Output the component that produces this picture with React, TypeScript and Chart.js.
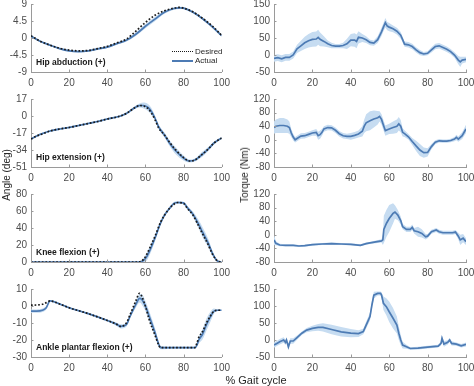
import React, { useEffect, useRef } from "react";
import { Chart, registerables } from "chart.js";

Chart.register(...registerables);

// ---------- data ----------
const X_TICKS = [0, 20, 40, 60, 80, 100];

// Hip abduction angle
const hipAbdX = [0, 5, 10, 15, 20, 25, 30, 35, 40, 45, 50, 55, 60, 65, 70, 75, 78, 80, 85, 90, 95, 100];
const hipAbdDesired = [0.6, -0.9, -1.9, -2.7, -3.2, -3.4, -3.3, -2.8, -2.2, -1.3, -0.3, 1.8, 4.1, 6.0, 7.2, 7.9, 8.1, 7.9, 6.9, 5.2, 3.2, 0.7];
const hipAbdActual = [0.5, -0.9, -1.9, -2.8, -3.4, -3.6, -3.4, -2.9, -2.4, -1.5, -0.6, 1.0, 3.1, 5.0, 6.8, 7.8, 8.0, 7.9, 6.8, 5.1, 3.0, 0.6];
const hipAbdSd = [0.25, 0.25, 0.25, 0.25, 0.25, 0.25, 0.25, 0.25, 0.25, 0.3, 0.3, 0.45, 0.55, 0.55, 0.4, 0.3, 0.3, 0.3, 0.3, 0.35, 0.35, 0.35];
const hipAbdTicks = [-9, -4.5, 0, 4.5, 9];

// Hip extension angle
const hipExtX = [0, 3, 6, 10, 15, 20, 25, 30, 35, 40, 45, 48, 50, 53, 55, 57, 59, 61, 63, 65, 67, 70, 73, 76, 80, 83, 86, 90, 93, 96, 100];
const hipExtDesired = [-23, -20, -18, -15, -13, -11.5, -9.5, -7.5, -5.5, -3, -1, 0.8, 2.5, 6.5, 9, 10.5, 10, 8, 3.5, -3.5, -12, -19, -27, -34, -41.5, -45, -44, -38, -33, -27, -22];
const hipExtActual = [-23, -20, -17.5, -15, -13, -11.5, -9.5, -7.5, -5.5, -3, -1, 0.8, 2.5, 6.5, 9, 10.5, 10.5, 9, 5, -2, -11, -19, -28, -35, -42, -45, -44, -38, -33, -27, -22];
const hipExtSd = [1, 1, 1, 1, 1, 1, 1, 1, 1, 1, 1, 1, 1, 1, 1.5, 2, 3, 3.5, 3.5, 2.5, 2, 2.5, 3, 3.5, 2.5, 1.5, 1.5, 2.5, 2, 1.5, 1];
const hipExtTicks = [-51, -34, -17, 0, 17];

// Knee flexion angle
const kneeX = [0, 10, 20, 30, 40, 50, 56, 58, 60, 62, 65, 68, 70, 73, 75, 77, 80, 82, 85, 88, 90, 93, 95, 97, 98, 100];
const kneeDesired = [0, 0, 0, 0, 0, 0, 0, 1, 6, 15, 30, 47, 55, 64, 68, 70, 69, 63, 55, 42, 33, 20, 10, 3, 1, 0];
const kneeActual = [0, 0, 0, 0, 0, 0, 0, 0.5, 4, 12, 28, 46, 55, 64, 69, 70, 69.5, 64, 56, 44, 35, 22, 11, 3, 1, 0];
const kneeSd = [0.5, 0.5, 0.5, 0.5, 0.5, 0.5, 0.5, 1.5, 4, 5, 4, 2, 1.5, 1.5, 1.5, 1.5, 1.5, 2, 3, 5, 6, 5, 3, 1.5, 1, 0.5];
const kneeTicks = [0, 20, 40, 60, 80];

// Ankle plantar flexion angle
const ankleX = [0, 3, 6, 8, 10, 15, 20, 30, 40, 45, 47, 50, 52, 55, 57, 58, 60, 62, 65, 67, 68, 75, 86, 87, 88, 90, 92, 94, 96, 98, 100];
const ankleDesired = [0.5, 0.6, 1, 2, 3, 1.2, -1, -4.5, -8.5, -10.8, -12, -10, -5, 3, 7.5, 6, 0, -8, -17, -23, -24.5, -24.5, -24.5, -22, -18.5, -15, -10, -6, -3, -2.5, -2.5];
const ankleActual = [-3, -3, -2.5, -1, 3, 1.2, -1, -4.5, -8.5, -10.8, -12, -11, -6, 1, 4.5, 4, 0, -6, -15.5, -22.5, -24.5, -24.5, -24.5, -23, -20, -16.5, -11, -6.5, -3, -2.5, -2.5];
const ankleSd = [1, 1, 1, 1, 0.5, 0.5, 0.5, 0.5, 0.5, 1, 1.2, 1.2, 1, 2, 2.5, 3, 3, 3, 2.5, 1.5, 1, 0.5, 0.5, 1, 2, 3, 3.5, 3, 1.5, 0.5, 0.5];
const ankleTicks = [-30, -20, -10, 0, 10];

// Hip abduction torque
const hipAbdTqX = [0, 2, 4, 6, 8, 10, 12, 14, 16, 18, 20, 22, 23, 24, 26, 28, 30, 32, 34, 36, 38, 40, 42, 43, 44, 46, 48, 50, 52, 54, 56, 57, 58, 59, 60, 62, 64, 66, 67, 68, 70, 72, 74, 76, 78, 80, 82, 84, 86, 88, 90, 92, 94, 96, 97, 98, 100];
const hipAbdTq = [-10, -8, -11, -7, -7, 0, 18, 27, 36, 42, 46, 47, 52, 46, 40, 33, 28, 26, 26, 28, 33, 44, 44, 40, 52, 50, 45, 37, 35, 45, 68, 82, 95, 85, 82, 77, 70, 58, 45, 32, 30, 25, 15, 7, 3, 5, 15, 25, 27, 22, 17, 10, 0, -15, -20, -15, -13];
const hipAbdTqSd = [10, 10, 10, 10, 10, 10, 12, 15, 18, 20, 22, 22, 22, 20, 15, 10, 8, 6, 6, 8, 15, 18, 20, 20, 18, 12, 10, 8, 8, 10, 12, 12, 14, 12, 12, 10, 10, 10, 8, 8, 8, 8, 8, 8, 6, 6, 8, 8, 8, 8, 8, 8, 8, 12, 15, 10, 8];
const hipAbdTqTicks = [-50, 0, 50, 100, 150];

// Hip extension torque
const hipExtTqX = [0, 1, 3, 5, 7, 8, 9, 10, 11, 12, 14, 16, 18, 20, 22, 23, 24, 25, 26, 28, 30, 32, 34, 36, 38, 40, 42, 44, 46, 47, 48, 50, 52, 54, 55, 56, 57, 58, 60, 62, 64, 65, 66, 67, 68, 70, 72, 74, 76, 78, 80, 82, 84, 86, 88, 90, 92, 94, 95, 96, 98, 100];
const hipExtTq = [36, 40, 42, 42, 40, 36, 20, 8, 0, 4, 11, 12, 16, 20, 22, 12, 15, 22, 32, 36, 35, 28, 18, 12, 10, 10, 13, 17, 25, 40, 50, 56, 61, 65, 69, 60, 43, 27, 32, 36, 40, 47, 40, 22, 18, 9, -5, -18, -30, -38, -37, -20, -7, -3, -4, -4, -2, 2, 7, 2, 12, 32];
const hipExtTqSd = [18, 20, 22, 22, 20, 18, 12, 10, 8, 8, 8, 8, 8, 8, 10, 12, 12, 10, 8, 8, 8, 8, 8, 8, 8, 10, 10, 10, 15, 20, 25, 28, 25, 20, 15, 15, 15, 15, 15, 18, 20, 20, 18, 12, 10, 8, 10, 15, 18, 15, 12, 8, 6, 5, 5, 5, 5, 6, 8, 8, 10, 12];
const hipExtTqTicks = [-80, -40, 0, 40, 80, 120];

// Knee flexion torque
const kneeTqX = [0, 1, 3, 6, 10, 13, 16, 20, 25, 30, 35, 40, 45, 48, 50, 53, 56, 56.7, 57.2, 58.6, 60, 62, 63, 64.5, 66, 67, 69, 71, 72, 73, 75, 77, 79, 80, 82, 84.5, 86, 88, 90.5, 93, 94.5, 96, 97, 98.5, 100];
const kneeTq = [-15, -25, -30, -31, -31, -33, -32, -29, -27, -26, -27, -28, -31, -26, -24, -21, -18, -15, 16, 34, 48, 63, 67, 58, 42, 24, 16, 16, 22, 12, 9, 4, -6, -4, 9, 14, 9, 6, 6, 6, 8, -4, -15, -10, -20];
const kneeTqSd = [15, 6, 4, 3, 3, 3, 3, 3, 3, 3, 3, 3, 3, 3, 3, 4, 5, 15, 40, 40, 40, 30, 20, 15, 12, 8, 8, 8, 8, 8, 15, 12, 8, 6, 6, 6, 6, 6, 6, 6, 6, 10, 15, 12, 10];
const kneeTqTicks = [-80, -40, 0, 40, 80, 120];

// Ankle plantar flexion torque
const ankleTqX = [0, 1.5, 3, 5, 6, 6.5, 7.5, 8.5, 10, 12, 14.5, 17, 20, 23, 25.5, 30, 35, 40, 44, 46.5, 48, 50, 51, 52, 54, 55.5, 56, 57, 58.5, 60, 62, 64, 65, 66, 67, 69, 71, 75, 80, 85.5, 87, 87.5, 88.5, 90.5, 91.5, 92.5, 95, 97.5, 100];
const ankleTq = [-15, -10, -5, 0, -7, 0, -20, -3, -3, 7, 20, 29, 34, 37, 37, 31, 24, 20, 19, 25, 44, 69, 103, 132, 137, 137, 132, 108, 98, 83, 64, 44, 20, 0, -15, -20, -25, -24, -21, -18, -10, 5, -12, -7, 0, -10, -12, -17, -13];
const ankleTqSd = [8, 8, 8, 8, 8, 8, 10, 8, 8, 6, 5, 6, 8, 10, 12, 14, 14, 12, 10, 8, 10, 12, 12, 10, 6, 6, 8, 20, 25, 30, 30, 25, 20, 15, 10, 6, 4, 4, 4, 4, 6, 8, 8, 6, 6, 6, 5, 5, 6];
const ankleTqTicks = [-50, 0, 50, 100, 150];

// ---------- style / layout ----------
const BLUE = "#4d7bb4";
const BAND = "#c6dcf1";
const AXIS = "#9a9a9a";
const TICK_TEXT = "#4d4d4d";
const FONT = "'Liberation Sans', Arial, Helvetica, sans-serif";

const ROW_H = 95;
const AREA_TOP = 4;
const AREA_H = 68;
const PAD_TOP = 12;
const X_AXIS_H = 24;
const CANVAS_H = PAD_TOP + AREA_H + X_AXIS_H;

const COLS = [
  { left: 0, width: 235, yAxisW: 31, padRight: 11 },
  { left: 235, width: 250, yAxisW: 39, padRight: 19 },
];

type PanelDef = {
  col: number;
  row: number;
  x: number[];
  mean: number[];
  sd: number[];
  desired?: number[];
  yTicks: number[];
  smooth: boolean;
};

const inwardTicks = {
  id: "inwardTicks",
  afterDraw(chart: any) {
    const { ctx, chartArea, scales } = chart;
    ctx.save();
    ctx.strokeStyle = AXIS;
    ctx.lineWidth = 1;
    ctx.beginPath();
    for (const t of scales.x.ticks) {
      const px = Math.round(scales.x.getPixelForValue(t.value)) + 0.5;
      ctx.moveTo(px, chartArea.bottom);
      ctx.lineTo(px, chartArea.bottom - 2.5);
    }
    for (const t of scales.y.ticks) {
      const py = Math.round(scales.y.getPixelForValue(t.value)) + 0.5;
      ctx.moveTo(chartArea.left, py);
      ctx.lineTo(chartArea.left + 2.5, py);
    }
    ctx.stroke();
    ctx.restore();
  },
};

function Panel({ def }: { def: PanelDef }) {
  const ref = useRef<HTMLCanvasElement>(null);
  const geom = COLS[def.col];
  const canvasTop = def.row * ROW_H + AREA_TOP - PAD_TOP;

  useEffect(() => {
    const canvas = ref.current;
    if (!canvas) return;
    const pts = (ys: number[]) => ys.map((y, i) => ({ x: def.x[i], y }));
    const upper = def.mean.map((m, i) => m + def.sd[i]);
    const lower = def.mean.map((m, i) => m - def.sd[i]);
    const curve = def.smooth ? { cubicInterpolationMode: "monotone" as const } : { tension: 0 };
    const datasets: any[] = [];
    if (def.desired) {
      datasets.push({
        data: pts(def.desired),
        borderColor: "#1a1a1a",
        borderWidth: 1.7,
        borderDash: [1.7, 1.9],
        pointRadius: 0,
        fill: false,
        order: 0,
        ...curve,
      });
    }
    datasets.push({
      data: pts(def.mean),
      borderColor: BLUE,
      borderWidth: 1.7,
      pointRadius: 0,
      fill: false,
      order: 1,
      ...curve,
    });
    datasets.push({
      data: pts(upper),
      borderColor: "rgba(0,0,0,0)",
      borderWidth: 1,
      pointRadius: 0,
      fill: false,
      order: 2,
      ...curve,
    });
    datasets.push({
      data: pts(lower),
      borderColor: "rgba(0,0,0,0)",
      borderWidth: 1,
      pointRadius: 0,
      backgroundColor: BAND,
      fill: "-1",
      order: 3,
      ...curve,
    });

    const tickFont = { family: FONT, size: 10 };
    const chart = new Chart(canvas, {
      type: "line",
      data: { datasets },
      plugins: [inwardTicks],
      options: {
        responsive: false,
        maintainAspectRatio: false,
        animation: false,
        devicePixelRatio: 1,
        layout: { padding: { top: PAD_TOP, right: geom.padRight, left: 0, bottom: 0 } },
        plugins: { legend: { display: false }, tooltip: { enabled: false } },
        scales: {
          x: {
            type: "linear",
            min: 0,
            max: 100,
            afterBuildTicks: (s: any) => {
              s.ticks = X_TICKS.map((v) => ({ value: v }));
            },
            afterFit: (s: any) => {
              s.height = X_AXIS_H;
            },
            grid: { display: false, drawTicks: false },
            border: { display: true, color: AXIS, width: 1 },
            ticks: {
              color: TICK_TEXT,
              font: tickFont,
              padding: 5,
              maxRotation: 0,
              autoSkip: false,
              callback: (v: any) => String(v),
            },
          },
          y: {
            type: "linear",
            min: def.yTicks[0],
            max: def.yTicks[def.yTicks.length - 1],
            afterBuildTicks: (s: any) => {
              s.ticks = def.yTicks.map((v) => ({ value: v }));
            },
            afterFit: (s: any) => {
              s.width = geom.yAxisW;
            },
            grid: { display: false, drawTicks: false },
            border: { display: true, color: AXIS, width: 1 },
            ticks: {
              color: TICK_TEXT,
              font: tickFont,
              padding: 4,
              autoSkip: false,
              callback: (v: any) => String(v),
            },
          },
        },
      } as any,
    });
    return () => chart.destroy();
  }, []);

  return (
    <canvas
      ref={ref}
      width={geom.width}
      height={CANVAS_H}
      style={{ position: "absolute", left: geom.left, top: canvasTop, width: geom.width, height: CANVAS_H }}
    />
  );
}

const PANELS: PanelDef[] = [
  { col: 0, row: 0, x: hipAbdX, mean: hipAbdActual, sd: hipAbdSd, desired: hipAbdDesired, yTicks: hipAbdTicks, smooth: true },
  { col: 0, row: 1, x: hipExtX, mean: hipExtActual, sd: hipExtSd, desired: hipExtDesired, yTicks: hipExtTicks, smooth: true },
  { col: 0, row: 2, x: kneeX, mean: kneeActual, sd: kneeSd, desired: kneeDesired, yTicks: kneeTicks, smooth: true },
  { col: 0, row: 3, x: ankleX, mean: ankleActual, sd: ankleSd, desired: ankleDesired, yTicks: ankleTicks, smooth: true },
  { col: 1, row: 0, x: hipAbdTqX, mean: hipAbdTq, sd: hipAbdTqSd, yTicks: hipAbdTqTicks, smooth: false },
  { col: 1, row: 1, x: hipExtTqX, mean: hipExtTq, sd: hipExtTqSd, yTicks: hipExtTqTicks, smooth: false },
  { col: 1, row: 2, x: kneeTqX, mean: kneeTq, sd: kneeTqSd, yTicks: kneeTqTicks, smooth: false },
  { col: 1, row: 3, x: ankleTqX, mean: ankleTq, sd: ankleTqSd, yTicks: ankleTqTicks, smooth: false },
];

const PANEL_LABELS = ["Hip abduction (+)", "Hip extension (+)", "Knee flexion (+)", "Ankle plantar flexion (+)"];

export default function App() {
  const text: React.CSSProperties = { position: "absolute", fontFamily: FONT, whiteSpace: "nowrap", color: "#262626" };
  return (
    <div
      style={{
        position: "fixed",
        left: 0,
        top: 0,
        width: 474,
        height: 386,
        overflow: "hidden",
        background: "#ffffff",
      }}
    >
      {PANELS.map((p, i) => (
        <Panel key={i} def={p} />
      ))}
      {PANEL_LABELS.map((t, i) => (
        <div key={t} style={{ ...text, left: 36, top: i * ROW_H + 57, fontSize: 8.5, lineHeight: "11px", fontWeight: "bold", color: "#1a1a1a" }}>
          {t}
        </div>
      ))}
      {/* legend */}
      <div style={{ position: "absolute", left: 172, top: 51, width: 21, borderTop: "1.7px dotted #1a1a1a" }} />
      <div style={{ ...text, left: 195, top: 47, fontSize: 8, lineHeight: "10px" }}>Desired</div>
      <div style={{ position: "absolute", left: 172, top: 60, width: 21, height: 2, background: BLUE }} />
      <div style={{ ...text, left: 195, top: 56, fontSize: 8, lineHeight: "10px" }}>Actual</div>
      {/* axis titles */}
      <div style={{ ...text, left: 7, top: 175, fontSize: 10, lineHeight: "12px", transform: "translate(-50%, -50%) rotate(-90deg)" }}>
        Angle (deg)
      </div>
      <div style={{ ...text, left: 245, top: 175, fontSize: 10, lineHeight: "12px", transform: "translate(-50%, -50%) rotate(-90deg)" }}>
        Torque (Nm)
      </div>
      <div style={{ ...text, left: 256, top: 380, fontSize: 11, lineHeight: "13px", transform: "translate(-50%, -50%)" }}>
        % Gait cycle
      </div>
    </div>
  );
}
